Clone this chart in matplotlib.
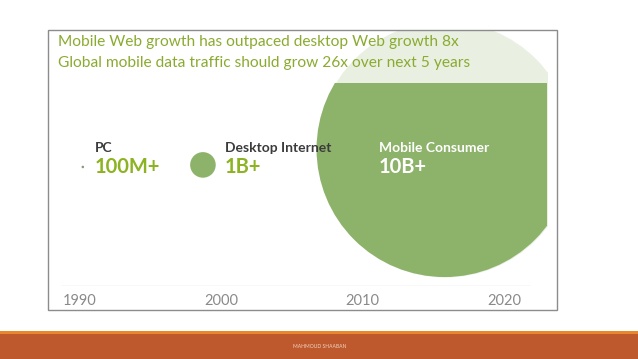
import matplotlib.pyplot as plt
from matplotlib.patches import Rectangle

# data
years = [1990.2, 1998.7, 2015.8]
users_bn = [0.1, 1, 10]
names = ['PC', 'Desktop Internet', 'Mobile Consumer']
counts = ['100M+', '1B+', '10B+']
year_ticks = [1990, 2000, 2010, 2020]
headline = ['Mobile Web growth has outpaced desktop Web growth 8x',
            'Global mobile data traffic should grow 26x over next 5 years']

W, H = 638, 359
fig = plt.figure(figsize=(W / 100, H / 100), dpi=100)
plt.rcParams['font.family'] = ['Lato', 'DejaVu Sans']


def fx(px):
    return px / W


def fy(py):
    return 1 - py / H


green = '#8db36b'
pale = '#e9f0e2'
title_green = '#8aab30'
num_green = '#8cb321'

# slide frame
fig.patches.append(Rectangle((fx(48), fy(310)), fx(557 - 48), (310 - 30) / H,
                             transform=fig.transFigure, fill=False,
                             edgecolor='#8c8c8c', lw=1.0, zorder=0))

# footer band
fig.patches.append(Rectangle((0, 0), 1, (359 - 333) / H, transform=fig.transFigure,
                             facecolor='#bd592c', edgecolor='none'))
fig.patches.append(Rectangle((0, fy(334)), 1, 3 / H, transform=fig.transFigure,
                             facecolor='#e8872b', edgecolor='none'))
fig.text(fx(320), fy(346), 'MAHMOUD SHAABAN', fontsize=3.6, color='#f3d6c6',
         ha='center', va='center')

# chart area
px_per_year = 14.13
ax = fig.add_axes([fx(48), fy(286), fx(547 - 48), (286 - 30) / H])
ax.set_xlim(1990 - (80 - 48) / px_per_year, 1990 + (547 - 80) / px_per_year)
ax.set_ylim(0, 1)
for s in ax.spines.values():
    s.set_visible(False)
ax.set_yticks([])
ax.set_xticks(year_ticks)
ax.set_xticklabels([str(y) for y in year_ticks])
ax.tick_params(axis='x', length=0, pad=6, labelsize=10.5, labelcolor='#8a8a8a')
ax.patch.set_alpha(0)

# bubbles: radius grows linearly with users (12.8 px per billion)
bubble_y = [0.465, 0.473, 0.535]
sizes = [(2 * 12.8 * v * 0.72) ** 2 for v in users_bn]
colors = ['#8a9a80', green, green]
top_clip = Rectangle((0, 0), 1, (286 - 83) / 256, transform=ax.transAxes)
ax.add_patch(top_clip)
top_clip.set_visible(False)

light = ax.scatter(years[2:], bubble_y[2:], s=sizes[2:], color=pale, linewidths=0, zorder=1)
dots = ax.scatter(years, bubble_y, s=sizes, color=colors, linewidths=0, zorder=2)
dots.set_clip_path(top_clip)

ax.axhline(0, xmin=(61 - 48) / 499, xmax=(530 - 48) / 499, color='#e0e0e0', lw=1)

# labels
label_px = [95, 225, 379]
name_colors = ['#3c3c3c', '#3c3c3c', 'white']
count_colors = [num_green, num_green, 'white']
for i in range(3):
    fig.text(fx(label_px[i]), fy(152), names[i], fontsize=10, fontweight='bold',
             color=name_colors[i], ha='left', va='baseline', zorder=5)
    fig.text(fx(label_px[i]), fy(173), counts[i], fontsize=14.5, fontweight='bold',
             color=count_colors[i], ha='left', va='baseline', zorder=5)

fig.text(fx(58), fy(46), headline[0], fontsize=11.2, color=title_green, va='baseline')
fig.text(fx(58), fy(67), headline[1], fontsize=11.2, color=title_green, va='baseline')

fig.savefig('out.png', dpi=100)
